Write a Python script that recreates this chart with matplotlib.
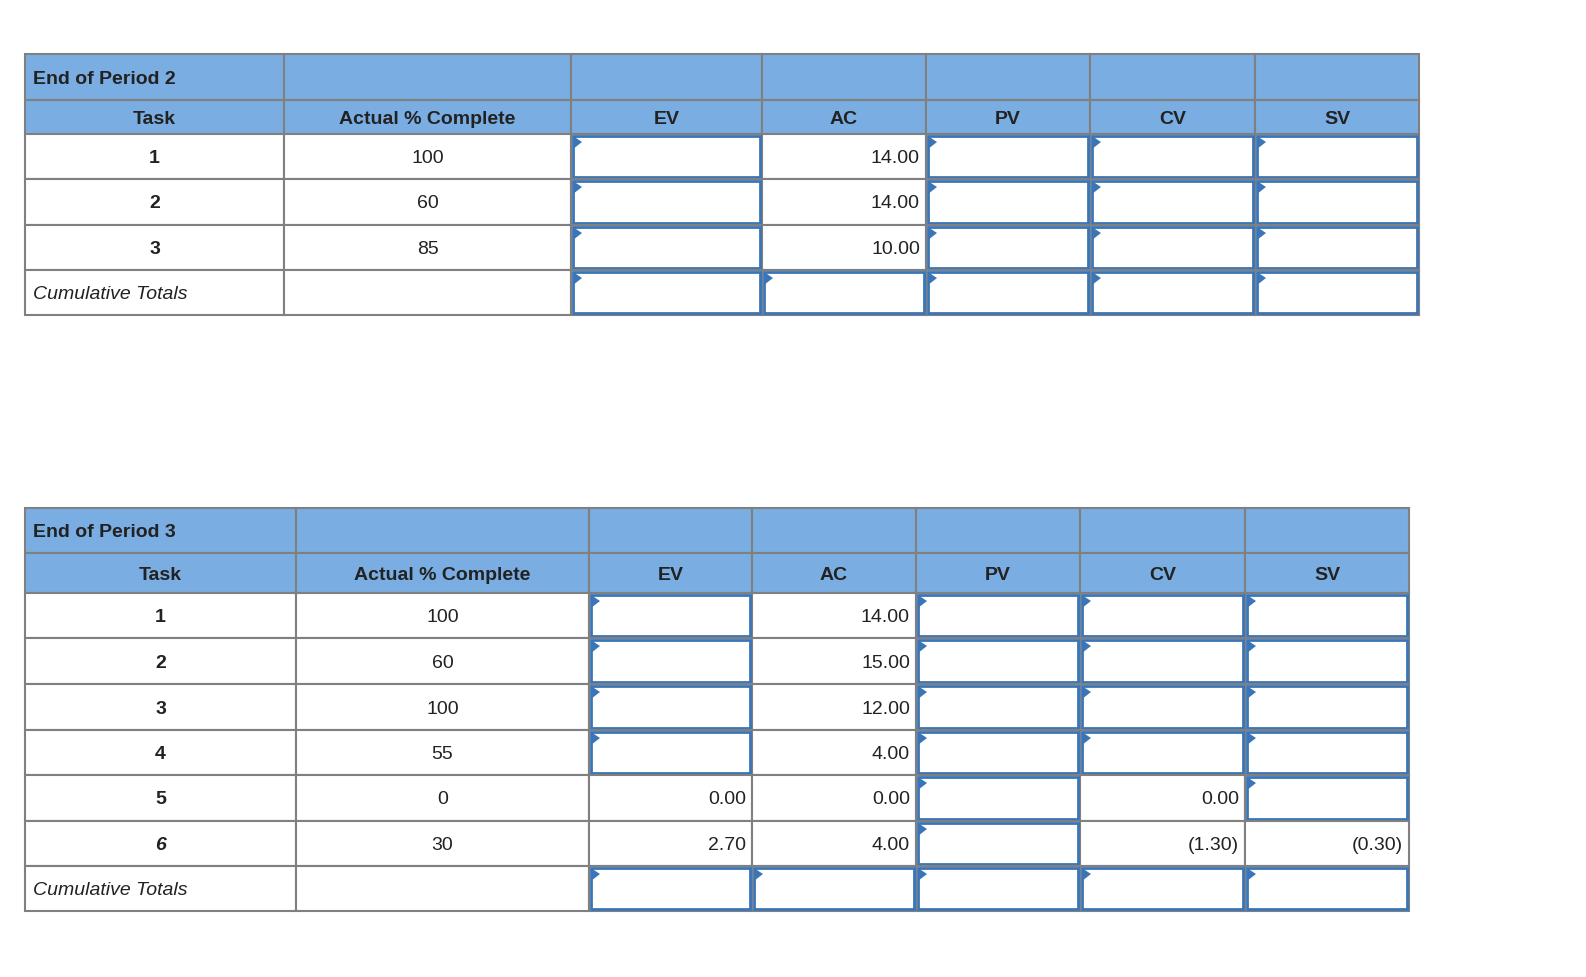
import matplotlib
matplotlib.use("Agg")
import matplotlib.pyplot as plt
from matplotlib.patches import Rectangle, Polygon

headers = ["Task", "Actual % Complete", "EV", "AC", "PV", "CV", "SV"]
# table 1
t1_title = "End of Period 2"
t1_tasks = ["1", "2", "3"]
t1_pct = ["100", "60", "85"]
t1_ev = [None, None, None]
t1_ac = ["14.00", "14.00", "10.00"]
t1_pv = [None, None, None]
t1_cv = [None, None, None]
t1_sv = [None, None, None]
# table 2
t2_title = "End of Period 3"
t2_tasks = ["1", "2", "3", "4", "5", "6"]
t2_pct = ["100", "60", "100", "55", "0", "30"]
t2_ev = [None, None, None, None, "0.00", "2.70"]
t2_ac = ["14.00", "15.00", "12.00", "4.00", "0.00", "4.00"]
t2_pv = [None, None, None, None, None, None]
t2_cv = [None, None, None, None, "0.00", "(1.30)"]
t2_sv = [None, None, None, None, None, "(0.30)"]
totals_label = "Cumulative Totals"

W, H = 1586, 978
fig = plt.figure(figsize=(W/100, H/100), dpi=100)
ax = fig.add_axes([0, 0, 1, 1])
ax.set_xlim(0, W); ax.set_ylim(H, 0); ax.axis("off")

HDR = "#7aade2"; GRID = "#808080"; BLUE = "#3a75b8"
FONT = "Liberation Sans"; FS = 14

def cell(x0, x1, y0, y1, fc="white"):
    ax.add_patch(Rectangle((x0, y0), x1-x0, y1-y0, fc=fc, ec=GRID, lw=1.5))

def inp(x0, x1, y0, y1):
    ax.add_patch(Rectangle((x0+2, y0+2), x1-x0-4, y1-y0-4, fc="white", ec=BLUE, lw=2))
    ax.add_patch(Polygon([(x0+2, y0+2), (x0+11, y0+8), (x0+2, y0+15)], closed=True, fc=BLUE, ec="none"))

def table(xs, ys, title, tasks, pct, cols, italic_last=False):
    for i in range(len(xs)-1):
        cell(xs[i], xs[i+1], ys[0], ys[1], HDR)
    ax.text(xs[0]+8, (ys[0]+ys[1])/2+1, title, fontfamily=FONT, fontsize=FS, weight="bold", va="center", color="#222")
    for i, h in enumerate(headers):
        cell(xs[i], xs[i+1], ys[1], ys[2], HDR)
        ax.text((xs[i]+xs[i+1])/2, (ys[1]+ys[2])/2+1, h, fontfamily=FONT, fontsize=FS, weight="bold", ha="center", va="center", color="#222")
    n = len(tasks)
    for r in range(n + 1):
        y0, y1 = ys[2+r], ys[3+r]
        yc = (y0+y1)/2 + 1
        for i in range(7):
            cell(xs[i], xs[i+1], y0, y1)
        if r < n:
            st = "italic" if (italic_last and r == n-1) else "normal"
            ax.text((xs[0]+xs[1])/2, yc, tasks[r], fontfamily=FONT, fontsize=FS, weight="bold", style=st, ha="center", va="center", color="#222")
            ax.text((xs[1]+xs[2])/2, yc, pct[r], fontfamily=FONT, fontsize=FS, ha="center", va="center", color="#222")
            for j, col in enumerate(cols):
                v = col[r]
                x0, x1 = xs[2+j], xs[3+j]
                if v is None:
                    inp(x0, x1, y0, y1)
                else:
                    ax.text(x1-6, yc, v, fontfamily=FONT, fontsize=FS, ha="right", va="center", color="#222")
        else:
            ax.text(xs[0]+8, yc, totals_label, fontfamily=FONT, fontsize=FS, style="italic", va="center", color="#222")
            for j in range(5):
                inp(xs[2+j], xs[3+j], y0, y1)

table([25, 284, 571, 762, 926, 1090, 1255, 1419], [55, 101, 135, 180, 226, 271, 316],
      t1_title, t1_tasks, t1_pct, [t1_ev, t1_ac, t1_pv, t1_cv, t1_sv])
table([25, 296, 589, 752, 916, 1080, 1245, 1409], [509, 554, 594, 639, 685, 731, 776, 822, 867, 912],
      t2_title, t2_tasks, t2_pct, [t2_ev, t2_ac, t2_pv, t2_cv, t2_sv], italic_last=True)

fig.savefig("out.png", dpi=100, facecolor="white")
